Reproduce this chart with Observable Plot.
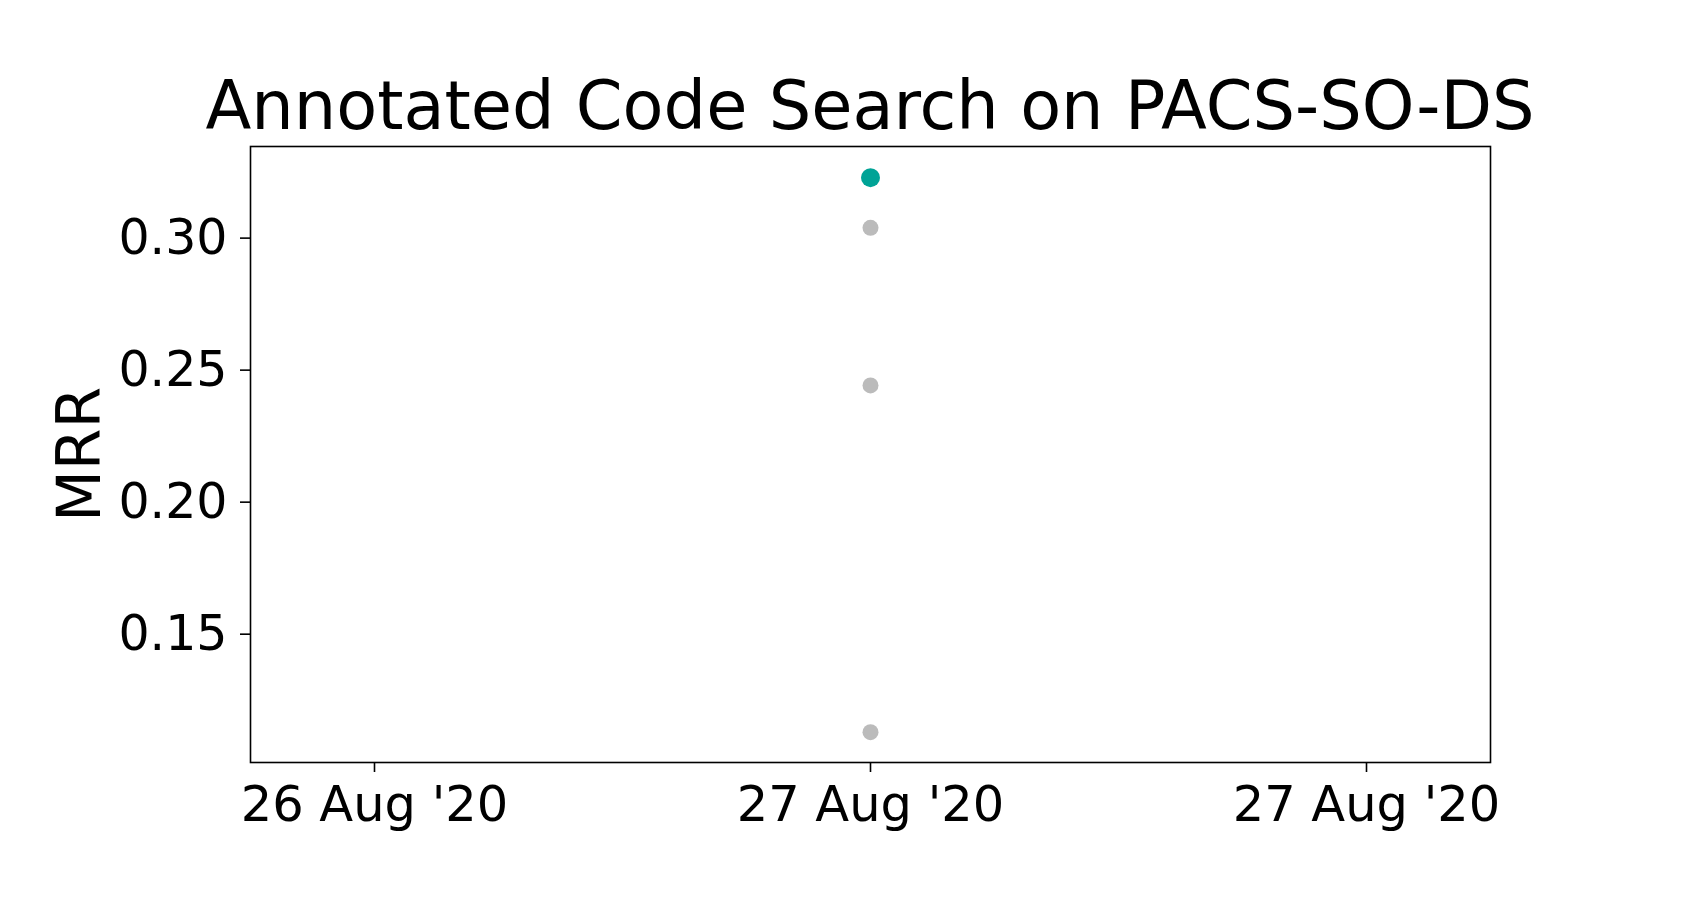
<!DOCTYPE html>
<html>
<head>
<meta charset="utf-8">
<script src="https://cdn.jsdelivr.net/npm/d3@7"></script>
<script src="https://cdn.jsdelivr.net/npm/@observablehq/plot@0.6"></script>
<style>
  body { margin: 0; background: #fff; }
  #wrap { position: relative; width: 1700px; height: 900px; font-family: "DejaVu Sans", sans-serif; }
  #title { position: absolute; left: 870px; transform: translateX(-50%); top: 73px; text-align: center;
           font-size: 67px; line-height: 67px; color: #000; white-space: nowrap; }
  #chart { position: absolute; left: 0; top: 0; }
</style>
</head>
<body>
<div id="wrap">
  <div id="chart"></div>
  <div id="title">Annotated Code Search on PACS-SO-DS</div>
</div>
<script>
// Data
const runDates = ["2020-08-27T00:00Z", "2020-08-27T00:00Z", "2020-08-27T00:00Z", "2020-08-27T00:00Z"];
const mrrValues = [0.3229, 0.3039, 0.2442, 0.1129];
const isBest = [true, false, false, false];
const xTicks = ["2020-08-26T12:00Z", "2020-08-27T00:00Z", "2020-08-27T12:00Z"];
const xDomain = ["2020-08-26T09:00Z", "2020-08-27T15:00Z"];
const yTicks = [0.15, 0.20, 0.25, 0.30];
const yDomain = [0.1014, 0.3347];

const rows = runDates.map((d, i) => ({date: new Date(d), mrr: mrrValues[i], best: isBest[i]}));
const fmt = d3.utcFormat("%d %b '%y");

const chart = Plot.plot({
  width: 1700,
  height: 900,
  marginLeft: 250,
  marginRight: 210,
  marginTop: 146,
  marginBottom: 138,
  style: {fontFamily: "DejaVu Sans, sans-serif", fontSize: "49px", color: "#000", background: "#fff"},
  x: {type: "utc", domain: xDomain.map(d => new Date(d))},
  y: {domain: yDomain},
  marks: [
    Plot.axisX({ticks: xTicks.map(d => new Date(d)), tickFormat: fmt, tickSize: 10, tickPadding: 13,
      strokeWidth: 1.6, fontSize: 49.5, label: null}),
    Plot.axisY({ticks: yTicks, tickFormat: d3.format(".2f"), tickSize: 10, tickPadding: 13,
      strokeWidth: 1.6, fontSize: 49, label: "MRR", labelAnchor: "center", labelArrow: "none",
      labelOffset: 193}),
    Plot.dot(rows.filter(d => !d.best), {x: "date", y: "mrr", r: 8, fill: "#bbbbbb"}),
    Plot.dot(rows.filter(d => d.best), {x: "date", y: "mrr", r: 9.5, fill: "#00a396"}),
    Plot.frame({stroke: "#000", strokeWidth: 1.6})
  ]
});
document.getElementById("chart").appendChild(chart);
chart.querySelectorAll("g[aria-label='y-axis label'] text").forEach(t => t.setAttribute("font-size", "60"));
</script>
</body>
</html>
